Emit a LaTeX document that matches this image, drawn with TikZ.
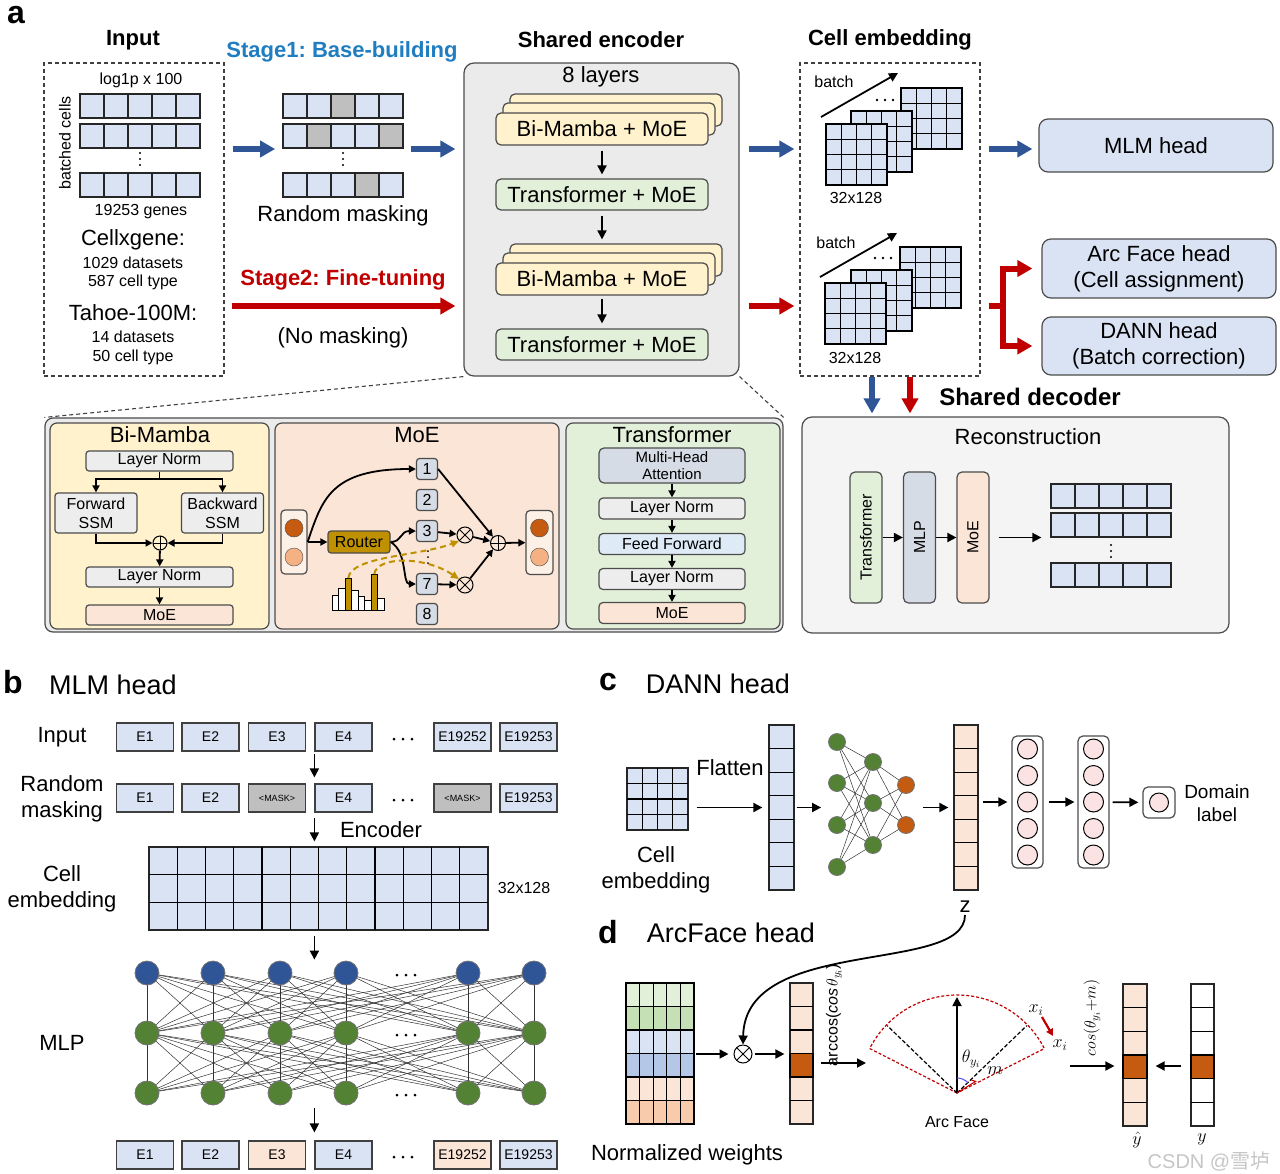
\RequirePackage{fix-cm}
\documentclass[tikz,border=0pt]{standalone}
\usepackage{fontspec}
\setmainfont{Liberation Sans}
\newfontfamily\cjkfont{Noto Sans CJK SC}
\usetikzlibrary{arrows.meta, fit, backgrounds, calc, positioning}
\frenchspacing
\definecolor{cellblue}  {HTML}{DAE3F3}
\definecolor{maskgray}  {HTML}{BFBFBF}
\definecolor{arrblue}   {HTML}{2F5597}
\definecolor{arrred}    {HTML}{C00000}
\definecolor{stageblue} {HTML}{1F7DC1}
\definecolor{mambay}    {HTML}{FFF2CC}
\definecolor{transg}    {HTML}{E2F0D9}
\definecolor{moep}      {HTML}{FBE5D6}
\definecolor{lngray}    {HTML}{EDEDED}
\definecolor{panelgray} {HTML}{EBEBEB}
\definecolor{decgray}   {HTML}{F4F4F4}
\definecolor{mlpgray}   {HTML}{D6DCE5}
\definecolor{ffblue}    {HTML}{DEEBF7}
\definecolor{routergold}{HTML}{BF9000}
\definecolor{darkor}    {HTML}{C55A11}
\definecolor{lightor}   {HTML}{F4B183}
\definecolor{vecfill}   {HTML}{FDF0E6}
\definecolor{nnblue}    {HTML}{2F5597}
\definecolor{nngreen}   {HTML}{548235}
\definecolor{pinkc}     {HTML}{FBE3E3}
\definecolor{wg1}{HTML}{E2F0D9}
\definecolor{wg2}{HTML}{C5E0B4}
\definecolor{wb1}{HTML}{DAE3F3}
\definecolor{wb2}{HTML}{B4C7E7}
\definecolor{wp1}{HTML}{FBE5D6}
\definecolor{wp2}{HTML}{F8CBAD}
\newcommand{\msk}{{\fontsize{9}{10}\selectfont<MASK>}}
\tikzset{
  ttl/.style={font=\fontsize{22}{26}\selectfont\bfseries},
  big/.style={font=\fontsize{22}{26}\selectfont, align=center},
  sml/.style={font=\fontsize{16}{19}\selectfont, align=center},
  sfn/.style={font=\fontsize{15}{17}\selectfont, align=center},
  mth/.style={font=\fontsize{18}{20}\selectfont, inner sep=1pt},
  lett/.style={font=\fontsize{32}{36}\selectfont\bfseries},
  hdr/.style={font=\fontsize{27}{31}\selectfont},
  BOX/.style args={#1/#2}{rectangle, rounded corners=#2, draw=black!70, fill=#1,
    line width=1.2pt, inner sep=0pt, align=center},
  DSH/.style={rectangle, draw=black!75, dash pattern=on 4pt off 3pt, line width=1.2pt, inner sep=0pt},
  gcell/.style={rectangle, draw=black!85, fill=cellblue, line width=1.3pt,
    minimum width=24pt, minimum height=24pt, inner sep=0pt},
  ebox/.style={rectangle, draw=black!75, fill=cellblue, line width=1.2pt,
    minimum width=57pt, minimum height=28pt, inner sep=0pt, font=\fontsize{14}{16}\selectfont},
  colbox/.style={rectangle, draw=black!85, line width=1.2pt, inner sep=0pt},
  neuron/.style={circle, fill=#1, draw=black!55, line width=0.8pt, minimum size=24pt, inner sep=0pt},
  nnedge/.style={line width=0.5pt, black!80},
  barr/.style={-{Triangle[length=15pt,width=16pt]}, line width=6pt, color=#1},
  karr/.style={-{Triangle[length=9pt,width=9pt]}, line width=1.8pt},
  narr/.style={-{Triangle[length=7pt,width=7pt]}, line width=1.8pt},
  gdash/.style={-{Triangle[length=8pt,width=7pt]}, dash pattern=on 6pt off 4pt, line width=2pt, color=routergold},
  oplus/.style={circle, draw, line width=1pt, minimum size=#1, inner sep=0pt,
    path picture={\draw[line width=1pt] (path picture bounding box.north) -- (path picture bounding box.south)
      (path picture bounding box.west) -- (path picture bounding box.east);}},
  otimes/.style={circle, draw, line width=1pt, minimum size=#1, inner sep=0pt,
    path picture={\draw[line width=1pt] (path picture bounding box.north west) -- (path picture bounding box.south east)
      (path picture bounding box.north east) -- (path picture bounding box.south west);}},
}
\begin{document}
\begin{tikzpicture}[x=1pt, y=-1pt]
  \useasboundingbox (0,0) rectangle (1280,1173);
  \begin{scope}[on background layer]
    \fill[white] (0,0) rectangle (1280,1173);
  \end{scope}
  % ---------- a: overview
  \node[lett] (la) at (16,15) {a};
  \node[ttl] (tin) at (133,40) {Input};
  \node[ttl, text=stageblue] (ts1) at (342,52) {Stage1: Base-building};
  \node[ttl] (tenc) at (601,40) {Shared encoder};
  \node[ttl] (temb) at (890,40) {Cell embedding};
  \node[DSH, minimum width=180pt, minimum height=313pt] (inbox) at (134,219.5) {};
  \node[sml] (lg) at (141,80) {log1p x 100};
  \node[sml, rotate=90] (bc) at (65,143) {batched cells};
  \foreach \r/\y in {1/106, 2/136, 3/185}
    \foreach \c in {0,...,4}{
      \node[gcell] (i\r\c) at (92+24*\c,\y) {};
      \node[gcell] (m\r\c) at (295+24*\c,\y) {};}
  \foreach \r/\c in {1/2, 2/1, 2/4, 3/3}
    \node[gcell, fill=maskgray] (mg\r\c) at (m\r\c) {};
  \foreach \x in {140,343} \foreach \d in {153,159,165} \fill (\x,\d) circle (1.2pt);
  \node[fit=(m10)(m34), inner sep=0pt] (mgrp) {};
  \node[sml] (gn) at (141,212) {19253 genes};
  \node[big] (cx) at (133,240) {Cellxgene:};
  \node[sml] (cx1) at (133,263) {1029 datasets};
  \node[sml] (cx2) at (133,282) {587 cell type};
  \node[big] (th) at (133,313) {Tahoe-100M:};
  \node[sml] (th1) at (133,337) {14 datasets};
  \node[sml] (th2) at (133,357) {50 cell type};
  \node[big] (rm) at (343,216) {Random masking};
  \node[ttl, text=arrred] (ts2) at (343,280) {Stage2: Fine-tuning};
  \node[big] (nm) at (343,338) {(No masking)};

  \node[BOX=panelgray/10pt, minimum width=275pt, minimum height=313pt] (enc) at (601.5,219.5) {};
  \node[big] (nl) at (601,77) {8 layers};
  \foreach \s/\y in {1/129, 2/279}{
    \node[BOX=mambay/5pt, minimum width=212pt, minimum height=32pt] (bm\s c) at (616,\y-19) {};
    \node[BOX=mambay/5pt, minimum width=212pt, minimum height=32pt] (bm\s b) at (609,\y-10) {};
    \node[BOX=mambay/5pt, minimum width=212pt, minimum height=32pt, big] (bm\s) at (602,\y) {Bi-Mamba + MoE};}
  \node[BOX=transg/5pt, minimum width=212pt, minimum height=31pt, big] (tr1) at (602,194.5) {Transformer + MoE};
  \node[BOX=transg/5pt, minimum width=212pt, minimum height=31pt, big] (tr2) at (602,344.5) {Transformer + MoE};
  \draw[karr, shorten <=5pt, shorten >=4pt] (bm1) -- (tr1);
  \draw[karr, shorten <=5pt, shorten >=4pt] (tr1) -- (tr1 |- bm2c.north);
  \draw[karr, shorten <=3pt, shorten >=5pt] (bm2) -- (tr2);

  \node[DSH, minimum width=180pt, minimum height=313pt] (emb) at (890,219.5) {};
  \foreach \gx/\gy in {901/88, 851/111, 826/124, 900/247, 851/270, 825/283}{
    \filldraw[fill=cellblue, line width=1.4pt] (\gx,\gy) rectangle ++(61,61);
    \foreach \k in {1,2,3}{
      \draw[line width=1.1pt] (\gx+15.25*\k,\gy) -- ++(0,61);
      \draw[line width=1.1pt] (\gx,\gy+15.25*\k) -- ++(61,0);}}
  \draw[karr] (821,117) -- (898,73);
  \draw[karr] (820,277) -- (897,233);
  \foreach \d in {877,885,893}{\fill (\d,100) circle (1.3pt); \fill (\d-2,258) circle (1.3pt);}
  \node[sml] (bt1) at (834,82) {batch};
  \node[sml] (bt2) at (836,243) {batch};
  \node[sml] (sz1) at (856,198) {32x128};
  \node[sml] (sz2) at (855,358) {32x128};

  \node[BOX=cellblue/9pt, minimum width=234pt, minimum height=53pt, big] (mlm) at (1156,145.5) {MLM head};
  \node[BOX=cellblue/9pt, minimum width=234pt, minimum height=59pt, big] (arc) at (1159,268.5) {Arc Face head\\(Cell assignment)};
  \node[BOX=cellblue/9pt, minimum width=234pt, minimum height=58pt, big] (dann) at (1159,346) {DANN head\\(Batch correction)};

  \coordinate (r1) at (0,149);
  \coordinate (r2) at (0,306);
  \coordinate (br) at (1003,306);
  \draw[barr=arrblue, shorten <=8pt, shorten >=7pt] (inbox.east |- r1) -- (mgrp.west |- r1);
  \draw[barr=arrblue, shorten <=7pt, shorten >=8pt] (mgrp.east |- r1) -- (enc.west |- r1);
  \draw[barr=arrred, shorten <=7pt, shorten >=8pt] (inbox.east |- r2) -- (enc.west |- r2);
  \draw[barr=arrblue, shorten <=9pt, shorten >=5pt] (enc.east |- r1) -- (emb.west |- r1);
  \draw[barr=arrred, shorten <=9pt, shorten >=5pt] (enc.east |- r2) -- (emb.west |- r2);
  \draw[barr=arrblue, shorten <=8pt, shorten >=6pt] (emb.east |- r1) -- (mlm.west |- r1);
  \draw[arrred, line width=6pt] ($(emb.east |- r2)+(8,0)$) -- (br);
  \draw[barr=arrred, shorten >=9pt] (br) |- (arc.west);
  \draw[barr=arrred, shorten >=9pt] (br) |- (dann.west);

  \node[font=\fontsize{24}{28}\selectfont\bfseries] (tdec) at (1030,397) {Shared decoder};
  \node[BOX=decgray/10pt, minimum width=427pt, minimum height=216pt] (dec) at (1015.5,525) {};
  \draw[barr=arrblue, shorten >=3pt] ([xshift=-18pt]emb.south) -- ([xshift=-18pt]emb.south |- dec.north);
  \draw[barr=arrred, shorten >=3pt] ([xshift=20pt]emb.south) -- ([xshift=20pt]emb.south |- dec.north);
  \node[big] (rec) at (1028,437) {Reconstruction};
  \node[BOX=transg/5pt, minimum width=32pt, minimum height=131pt, sml] (dtr) at (866,537.5) {\rotatebox{90}{Transformer}};
  \node[BOX=mlpgray/5pt, minimum width=32pt, minimum height=131pt, sml] (dmlp) at (919.5,537.5) {\rotatebox{90}{MLP}};
  \node[BOX=moep/5pt, minimum width=32pt, minimum height=131pt, sml] (dmoe) at (973,537.5) {\rotatebox{90}{MoE}};
  \draw[karr] (dtr) -- (dmlp);
  \draw[karr] (dmlp) -- (dmoe);
  \foreach \r/\y in {1/496, 2/525, 3/575}
    \foreach \c in {0,...,4} \node[gcell] (d\r\c) at (1063+24*\c,\y) {};
  \foreach \d in {545,551,557} \fill (1111,\d) circle (1.2pt);
  \draw[karr, shorten <=9pt, shorten >=9pt] (dmoe) -- (dmoe -| d20.west);

  % ---------- a: block details
  \node[BOX=panelgray/8pt, minimum width=738pt, minimum height=214pt] (det) at (414,525) {};
  \draw[dash pattern=on 4pt off 3pt, line width=1.1pt, black!75] (enc.south west) -- (det.north west);
  \draw[dash pattern=on 4pt off 3pt, line width=1.1pt, black!75] (enc.south east) -- (det.north east);
  \node[BOX=mambay/7pt, minimum width=219pt, minimum height=206pt] (pbm) at (159.5,526) {};
  \node[BOX=moep/7pt, minimum width=284pt, minimum height=206pt] (pmoe) at (417,526) {};
  \node[BOX=transg/7pt, minimum width=214pt, minimum height=206pt] (ptr) at (673,526) {};
  \node[big] (tbm) at (160,435) {Bi-Mamba};
  \node[big] (tmo) at (417,435) {MoE};
  \node[big] (ttr) at (672,435) {Transformer};

  \node[BOX=lngray/3pt, minimum width=147pt, minimum height=20pt, sml] (ln1) at (159.5,461) {Layer Norm};
  \node[BOX=lngray/3pt, minimum width=82pt, minimum height=40pt, sml] (fwd) at (96,513) {Forward\\SSM};
  \node[BOX=lngray/3pt, minimum width=82pt, minimum height=40pt, sml] (bwd) at (222.5,513) {Backward\\SSM};
  \node[oplus=14pt] (op1) at (160,543) {};
  \node[BOX=lngray/3pt, minimum width=147pt, minimum height=20pt, sml] (ln2) at (159.5,577) {Layer Norm};
  \node[BOX=moep/3pt, minimum width=147pt, minimum height=20pt, sml] (moe1) at (159.5,615) {MoE};
  \draw[narr] (ln1.south) -- ++(0,7) -| (fwd.north);
  \draw[narr] (ln1.south) -- ++(0,7) -| (bwd.north);
  \draw[narr] (fwd.south) |- (op1.west);
  \draw[narr] (bwd.south) |- (op1.east);
  \draw[narr] (op1) -- (ln2);
  \draw[narr] (ln2) -- (moe1);

  \node[BOX=vecfill/4pt, minimum width=26pt, minimum height=64pt] (vin) at (294,542) {};
  \node[circle, fill=darkor, draw=black!70, minimum size=18pt, inner sep=0pt] (vin1) at (294,528) {};
  \node[circle, fill=lightor, draw=black!70, minimum size=18pt, inner sep=0pt] (vin2) at (294,557) {};
  \node[BOX=routergold/3pt, minimum width=62pt, minimum height=22pt, sml] (rt) at (359,542) {Router};
  \foreach \e/\y in {1/469, 2/500, 3/531, 7/584, 8/614}
    \node[BOX=mlpgray/3pt, minimum width=21pt, minimum height=21pt, sml] (e\e) at (427,\y) {\e};
  \foreach \d in {551,557,563} \fill (428,\d) circle (1pt);
  \node[otimes=16pt] (ot1) at (465,535) {};
  \node[otimes=16pt] (ot2) at (465,585) {};
  \node[oplus=15pt] (op2) at (498,543) {};
  \node[BOX=vecfill/4pt, minimum width=27pt, minimum height=64pt] (vout) at (539.5,542.5) {};
  \node[circle, fill=darkor, draw=black!70, minimum size=18pt, inner sep=0pt] (vout1) at (539.5,528) {};
  \node[circle, fill=lightor, draw=black!70, minimum size=18pt, inner sep=0pt] (vout2) at (539.5,557) {};
  \draw[narr] (vin.east) -- (rt.west);
  \draw[narr] (vin.east) .. controls (322,500) and (330,469) .. (e1.west);
  \draw[narr] (rt.east) .. controls (402,542) and (400,531) .. (e3.west);
  \draw[narr] (rt.east) .. controls (408,552) and (402,584) .. (e7.west);
  \draw[narr] (e3) -- (ot1);
  \draw[narr] (e7) -- (ot2);
  \draw[narr] (e1.east) -- (op2);
  \draw[narr] (ot1) -- (op2);
  \draw[narr] (ot2) -- (op2);
  \draw[narr] (op2) -- (vout);
  \foreach \b/\h/\f in {0/15/white, 1/22/white, 2/32/routergold, 3/20/white, 4/14/white, 5/10/white, 6/36/routergold, 7/12/white}
    \filldraw[fill=\f, line width=0.9pt] (332+6.5*\b,610) rectangle ++(6.5,-\h);
  \coordinate (g1) at (348.25,578);
  \coordinate (g2) at (374.25,574);
  \draw[gdash] (g1) .. controls (351,556) and (420,556) .. (ot1.south west);
  \draw[gdash] (g2) .. controls (377,556) and (425,556) .. (ot2.north west);

  \node[BOX=mlpgray/5pt, minimum width=146pt, minimum height=35pt, sfn] (mha) at (672,465.5) {Multi-Head\\Attention};
  \node[BOX=lngray/4pt, minimum width=146pt, minimum height=21pt, sml] (tln1) at (672,508.5) {Layer Norm};
  \node[BOX=ffblue/4pt, minimum width=146pt, minimum height=21pt, sml] (tff) at (672,544) {Feed Forward};
  \node[BOX=lngray/4pt, minimum width=146pt, minimum height=21pt, sml] (tln2) at (672,579) {Layer Norm};
  \node[BOX=moep/4pt, minimum width=146pt, minimum height=21pt, sml] (tmoe) at (672,613) {MoE};
  \draw[narr] (mha) -- (tln1);
  \draw[narr] (tln1) -- (tff);
  \draw[narr] (tff) -- (tln2);
  \draw[narr] (tln2) -- (tmoe);

  % ---------- b: MLM head
  \node[lett] (lb) at (13,682) {b};
  \node[hdr] (hb) at (113,685) {MLM head};
  \node[big] (bl1) at (62,737) {Input};
  \node[big] (bl2) at (62,799) {Random\\masking};
  \node[big] (bl3) at (62,889) {Cell\\embedding};
  \node[big] (bl4) at (62,1043) {MLP};
  \foreach \n/\x/\t in {1/145/E1, 2/210.5/E2, 3/277/E3, 4/343.5/E4, 5/462.5/E19252, 6/528.5/E19253}
    \node[ebox] (bin\n) at (\x,737) {\t};
  \foreach \n/\x/\t/\f in {1/145/E1/cellblue, 2/210.5/E2/cellblue, 3/277/\msk/maskgray, 4/343.5/E4/cellblue, 5/462.5/\msk/maskgray, 6/528.5/E19253/cellblue}
    \node[ebox, fill=\f] (bmk\n) at (\x,798) {\t};
  \foreach \n/\x/\t/\f in {1/145/E1/cellblue, 2/210.5/E2/cellblue, 3/277/E3/moep, 4/343.5/E4/cellblue, 5/462.5/E19252/moep, 6/528.5/E19253/cellblue}
    \node[ebox, fill=\f] (bout\n) at (\x,1155) {\t};
  \foreach \y in {737,798,1155} \foreach \d in {394,403,412} \fill (\d,\y+2) circle (1.5pt);
  \node[colbox, fill=cellblue, minimum width=339pt, minimum height=83pt] (bemb) at (318.5,888.5) {};
  \foreach \k in {1,...,11} \draw[line width=1.2pt] (149+28.25*\k,847) -- ++(0,83);
  \foreach \k in {1,2} \draw[line width=1.2pt] (149,847+27.67*\k) -- ++(339,0);
  \node[big] (benc) at (381,830) {Encoder};
  \node[sml] (b32) at (524,888) {32x128};
  \foreach \l/\y/\c in {1/973/nnblue, 2/1033/nngreen, 3/1093/nngreen}
    \foreach \i/\x in {1/147, 2/213, 3/280, 4/346, 5/468, 6/534}
      \node[neuron=\c] (n\l\i) at (\x,\y) {};
  \begin{scope}[on background layer]
    \foreach \i in {1,...,6} \foreach \j in {1,...,6}{
      \draw[nnedge] (n1\i.center) -- (n2\j.center);
      \draw[nnedge] (n2\i.center) -- (n3\j.center);}
  \end{scope}
  \foreach \y in {973,1033,1093} \foreach \d in {397,406,415} \fill (\d,\y+2) circle (1.5pt);
  \draw[karr, shorten <=2pt, shorten >=6pt] (bin4.south west) -- (bmk4.north west);
  \draw[karr, shorten <=5pt, shorten >=5pt] (bmk4.south west) -- (bmk4.south west |- bemb.north);
  \draw[karr, shorten <=5pt, shorten >=1pt] (bemb.south -| bmk4.west) -- (n14.north -| bmk4.west);
  \draw[karr, shorten <=3pt, shorten >=8pt] (n34.south -| bmk4.west) -- (bout4.north west);

  % ---------- c: DANN head
  \node[lett] (lc) at (608,682) {c};
  \node[hdr] (hc) at (718,684) {DANN head};
  \node[colbox, fill=cellblue, minimum width=61pt, minimum height=62pt] (cemb) at (657.5,799) {};
  \foreach \k in {1,2,3}{
    \draw[line width=1.1pt] (627+15.25*\k,768) -- ++(0,62);
    \draw[line width=1.1pt] (627,768+15.5*\k) -- ++(61,0);}
  \node[big] (ccell) at (656,870) {Cell\\embedding};
  \node[big] (cfl) at (730,768) {Flatten};
  \node[colbox, fill=cellblue, minimum width=25pt, minimum height=165pt] (cflat) at (781.5,807.5) {};
  \foreach \k in {1,...,6} \draw[line width=1.1pt] (769,725+23.57*\k) -- ++(25,0);
  \foreach \i/\y in {1/742, 2/783, 3/825, 4/867} \node[neuron=nngreen, minimum size=17pt] (c1\i) at (837,\y) {};
  \foreach \i/\y in {1/762, 2/803, 3/845} \node[neuron=nngreen, minimum size=17pt] (c2\i) at (873,\y) {};
  \foreach \i/\y in {1/785, 2/825} \node[neuron=darkor, minimum size=17pt] (c3\i) at (906,\y) {};
  \begin{scope}[on background layer]
    \foreach \i in {1,...,4} \foreach \j in {1,2,3} \draw[nnedge] (c1\i.center) -- (c2\j.center);
    \foreach \i in {1,2,3} \foreach \j in {1,2} \draw[nnedge] (c2\i.center) -- (c3\j.center);
  \end{scope}
  \node[colbox, fill=moep, minimum width=24pt, minimum height=165pt] (cz) at (966,807.5) {};
  \foreach \k in {1,...,6} \draw[line width=1.1pt] (954,725+23.57*\k) -- ++(24,0);
  \node[big, inner sep=2pt] (zl) at (965,907) {z};
  \draw[karr, shorten <=8pt, shorten >=6pt] (cemb.east |- cflat.west) -- (cflat.west);
  \draw[karr, shorten <=2pt, shorten >=7pt] (cflat.east) -- (cflat.east -| c11.west);
  \draw[karr, shorten <=8pt, shorten >=5pt] (c31.east |- cz.west) -- (cz.west);
  \node[BOX=white/5pt, minimum width=31pt, minimum height=132pt] (cb1) at (1027.5,802) {};
  \node[BOX=white/5pt, minimum width=31pt, minimum height=132pt] (cb2) at (1093.5,802) {};
  \foreach \q/\y in {1/749, 2/775.5, 3/802, 4/828.5, 5/855}{
    \node[circle, draw, fill=pinkc, minimum size=20pt, inner sep=0pt, line width=1pt] (cb1n\q) at (1027.5,\y) {};
    \node[circle, draw, fill=pinkc, minimum size=20pt, inner sep=0pt, line width=1pt] (cb2n\q) at (1093.5,\y) {};}
  \node[BOX=white/5pt, minimum width=32pt, minimum height=31pt] (cdom) at (1159,802.5) {};
  \node[circle, draw, fill=pinkc, minimum size=19pt, inner sep=0pt, line width=1pt] (cdomn) at (1159,802.5) {};
  \node[font=\fontsize{19}{23}\selectfont, align=center] (cdl) at (1217,803) {Domain\\label};
  \draw[karr, shorten <=4pt, shorten >=4pt] (cz.east |- cb1.west) -- (cb1.west);
  \draw[karr, shorten <=5pt, shorten >=3pt] (cb1) -- (cb2);
  \draw[karr, shorten <=3pt, shorten >=4pt] (cb2) -- (cdom);

  % ---------- d: ArcFace head
  \node[lett] (ld) at (608,932) {d};
  \node[hdr] (hd) at (731,933) {ArcFace head};
  \foreach \r/\f in {0/wg1, 1/wg2, 2/wb1, 3/wb2, 4/wp1, 5/wp2}
    \filldraw[fill=\f, line width=1.1pt] (626,983+23.5*\r) rectangle ++(68,23.5);
  \foreach \k in {1,...,4} \draw[line width=1.1pt] (626+13.6*\k,983) -- ++(0,141);
  \node[minimum width=68pt, minimum height=141pt, inner sep=0pt] (dw) at (660,1053.5) {};
  \node[big] (nw) at (687,1155) {Normalized weights};
  \node[otimes=18pt] (dot) at (743,1054) {};
  \node[colbox, fill=moep, minimum width=23pt, minimum height=141pt] (dcol) at (801.5,1053.5) {};
  \filldraw[fill=darkor, line width=1.1pt] (790,1053.5) rectangle ++(23,23.5);
  \foreach \k in {1,...,5} \draw[line width=1.1pt] (790,983+23.5*\k) -- ++(23,0);
  \draw[karr, shorten <=2pt, shorten >=5pt] (dw.east |- dot) -- (dot);
  \draw[karr, shorten <=2pt, shorten >=5pt] (dot) -- (dcol.west |- dot);
  \draw[karr] (zl.south) .. controls (965,975) and (745,935) .. (dot.north);
  \node[font=\fontsize{16}{18}\selectfont, rotate=90, inner sep=1pt] (acl) at (834,1015) {arccos($\mathit{cos}\,\theta_{y_i}$)};
  \coordinate (apex) at (957,1093);
  \coordinate (arcL) at (866,1063);
  \coordinate (arcR) at (1070,1066);
  \draw[karr, shorten <=7pt] (dcol.east |- arcL) -- (arcL);
  \begin{scope}[shift={(apex)}, y=1pt]
    \draw[arrred, dash pattern=on 3pt off 2pt, line width=1.2pt] (0,0) -- (153:98) arc[start angle=153, end angle=27, radius=98] -- cycle;
    \draw[dash pattern=on 4pt off 2pt, line width=1.2pt] (0,0) -- (136:97);
    \draw[dash pattern=on 4pt off 2pt, line width=1.2pt] (0,0) -- (44:97);
    \draw[karr] (0,0) -- (0,96);
    \draw[blue!70, line width=1pt] (90:15) arc[start angle=90, end angle=44, radius=15];
    \draw[arrred, line width=1pt] (0,0) -- (32:22) -- (44:19);
    \node[mth] (tht) at (14,34) {$\theta_{y_i}$};
    \node[mth] (mm) at (38,22) {$m$};
    \node[mth] (xi1) at (79,83) {$x_i$};
    \node[mth] (xi2) at (103,48) {$x_i$};
    \draw[-{Triangle[length=7pt,width=7pt]}, arrred, line width=2.2pt] (85,76) -- (96,57);
  \end{scope}
  \node[sml] (afl) at (957,1122) {Arc Face};
  \node[font=\fontsize{16}{18}\selectfont, rotate=90, inner sep=1pt] (cosl) at (1092,1018) {$cos(\theta_{y_i}{+}m)$};
  \node[colbox, fill=moep, minimum width=24pt, minimum height=142pt] (yh) at (1135,1055) {};
  \node[colbox, fill=white, minimum width=23pt, minimum height=142pt] (yc) at (1202.5,1055) {};
  \filldraw[fill=darkor, line width=1.1pt] (1123,1055) rectangle ++(24,23.67);
  \filldraw[fill=darkor, line width=1.1pt] (1191,1055) rectangle ++(23,23.67);
  \foreach \k in {1,...,5}{
    \draw[line width=1.1pt] (1123,984+23.67*\k) -- ++(24,0);
    \draw[line width=1.1pt] (1191,984+23.67*\k) -- ++(23,0);}
  \draw[karr, shorten >=8pt] (arcR) -- (arcR -| yh.west);
  \draw[karr, shorten <=9pt, shorten >=8pt] (yc.west |- arcR) -- (yh.east |- arcR);
  \node[font=\fontsize{18}{20}\selectfont, inner sep=0pt] (yhl) at (1137,1140) {$\hat{y}$};
  \node[font=\fontsize{18}{20}\selectfont, inner sep=0pt] (yl) at (1202,1139) {$y$};
  \node[text=gray!45, font=\fontsize{20}{24}\selectfont, inner sep=0pt] (wm) at (1209,1162) {CSDN @{\cjkfont 雪垆}};
\end{tikzpicture}
\end{document}
